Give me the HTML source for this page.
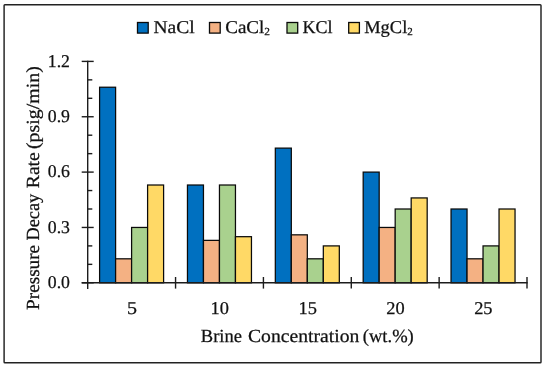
<!DOCTYPE html><html><head><meta charset="utf-8"><title>Chart</title><style>html,body{margin:0;padding:0;background:#fff}svg{display:block}text{text-rendering:geometricPrecision;font-family:"Liberation Serif","DejaVu Serif",serif;fill:#111}</style></head><body>
<svg width="550" height="370" viewBox="0 0 550 370">
<rect x="0" y="0" width="550" height="370" fill="#fff"/>
<rect x="4.1" y="4.8" width="536.9" height="358" fill="none" stroke="#222" stroke-width="1.45" rx="0.8"/>
<rect x="99.60" y="87.23" width="16.00" height="195.57" fill="#0070C0" stroke="#0a0a0a" stroke-width="1.25"/>
<rect x="115.60" y="258.81" width="16.00" height="23.99" fill="#F4B183" stroke="#0a0a0a" stroke-width="1.25"/>
<rect x="131.60" y="227.45" width="16.00" height="55.35" fill="#A9D18E" stroke="#0a0a0a" stroke-width="1.25"/>
<rect x="147.60" y="185.01" width="16.00" height="97.79" fill="#FFD966" stroke="#0a0a0a" stroke-width="1.25"/>
<rect x="187.46" y="185.01" width="16.00" height="97.79" fill="#0070C0" stroke="#0a0a0a" stroke-width="1.25"/>
<rect x="203.46" y="240.37" width="16.00" height="42.44" fill="#F4B183" stroke="#0a0a0a" stroke-width="1.25"/>
<rect x="219.46" y="185.01" width="16.00" height="97.79" fill="#A9D18E" stroke="#0a0a0a" stroke-width="1.25"/>
<rect x="235.46" y="236.68" width="16.00" height="46.12" fill="#FFD966" stroke="#0a0a0a" stroke-width="1.25"/>
<rect x="275.32" y="148.12" width="16.00" height="134.69" fill="#0070C0" stroke="#0a0a0a" stroke-width="1.25"/>
<rect x="291.32" y="234.83" width="16.00" height="47.97" fill="#F4B183" stroke="#0a0a0a" stroke-width="1.25"/>
<rect x="307.32" y="258.81" width="16.00" height="23.99" fill="#A9D18E" stroke="#0a0a0a" stroke-width="1.25"/>
<rect x="323.32" y="245.90" width="16.00" height="36.90" fill="#FFD966" stroke="#0a0a0a" stroke-width="1.25"/>
<rect x="363.18" y="172.10" width="16.00" height="110.70" fill="#0070C0" stroke="#0a0a0a" stroke-width="1.25"/>
<rect x="379.18" y="227.45" width="16.00" height="55.35" fill="#F4B183" stroke="#0a0a0a" stroke-width="1.25"/>
<rect x="395.18" y="209.00" width="16.00" height="73.80" fill="#A9D18E" stroke="#0a0a0a" stroke-width="1.25"/>
<rect x="411.18" y="197.93" width="16.00" height="84.87" fill="#FFD966" stroke="#0a0a0a" stroke-width="1.25"/>
<rect x="451.04" y="209.00" width="16.00" height="73.80" fill="#0070C0" stroke="#0a0a0a" stroke-width="1.25"/>
<rect x="467.04" y="258.81" width="16.00" height="23.99" fill="#F4B183" stroke="#0a0a0a" stroke-width="1.25"/>
<rect x="483.04" y="245.90" width="16.00" height="36.90" fill="#A9D18E" stroke="#0a0a0a" stroke-width="1.25"/>
<rect x="499.04" y="209.00" width="16.00" height="73.80" fill="#FFD966" stroke="#0a0a0a" stroke-width="1.25"/>
<g stroke="#1c1c1c" stroke-width="1.4" fill="none">
<line x1="87.7" y1="60.8" x2="87.7" y2="288.90000000000003"/>
<line x1="81.7" y1="282.8" x2="527.6" y2="282.8"/>
<line x1="81.7" y1="282.80" x2="93.7" y2="282.80"/>
<line x1="87.7" y1="264.35" x2="92.3" y2="264.35"/>
<line x1="87.7" y1="245.90" x2="92.3" y2="245.90"/>
<line x1="81.7" y1="227.45" x2="93.7" y2="227.45"/>
<line x1="87.7" y1="209.00" x2="92.3" y2="209.00"/>
<line x1="87.7" y1="190.55" x2="92.3" y2="190.55"/>
<line x1="81.7" y1="172.10" x2="93.7" y2="172.10"/>
<line x1="87.7" y1="153.65" x2="92.3" y2="153.65"/>
<line x1="87.7" y1="135.20" x2="92.3" y2="135.20"/>
<line x1="81.7" y1="116.75" x2="93.7" y2="116.75"/>
<line x1="87.7" y1="98.30" x2="92.3" y2="98.30"/>
<line x1="87.7" y1="79.85" x2="92.3" y2="79.85"/>
<line x1="81.7" y1="61.40" x2="93.7" y2="61.40"/>
<line x1="175.56" y1="277.0" x2="175.56" y2="288.6"/>
<line x1="263.42" y1="277.0" x2="263.42" y2="288.6"/>
<line x1="351.28" y1="277.0" x2="351.28" y2="288.6"/>
<line x1="439.14" y1="277.0" x2="439.14" y2="288.6"/>
<line x1="527.00" y1="277.0" x2="527.00" y2="288.6"/>
</g>
<text x="70.0" y="287.90" font-size="18" text-anchor="end" textLength="22.2" lengthAdjust="spacingAndGlyphs" stroke="#111" stroke-width="0.25">0.0</text>
<text x="70.0" y="232.55" font-size="18" text-anchor="end" textLength="22.2" lengthAdjust="spacingAndGlyphs" stroke="#111" stroke-width="0.25">0.3</text>
<text x="70.0" y="177.20" font-size="18" text-anchor="end" textLength="22.2" lengthAdjust="spacingAndGlyphs" stroke="#111" stroke-width="0.25">0.6</text>
<text x="70.0" y="121.85" font-size="18" text-anchor="end" textLength="22.2" lengthAdjust="spacingAndGlyphs" stroke="#111" stroke-width="0.25">0.9</text>
<text x="70.0" y="66.50" font-size="18" text-anchor="end" textLength="22.2" lengthAdjust="spacingAndGlyphs" stroke="#111" stroke-width="0.25">1.2</text>
<text x="131.93" y="314.1" font-size="18" text-anchor="middle" textLength="10" lengthAdjust="spacingAndGlyphs" stroke="#111" stroke-width="0.25">5</text>
<text x="219.79" y="314.1" font-size="18" text-anchor="middle" textLength="18.4" lengthAdjust="spacingAndGlyphs" stroke="#111" stroke-width="0.25">10</text>
<text x="307.65" y="314.1" font-size="18" text-anchor="middle" textLength="18.4" lengthAdjust="spacingAndGlyphs" stroke="#111" stroke-width="0.25">15</text>
<text x="395.51" y="314.1" font-size="18" text-anchor="middle" textLength="18.4" lengthAdjust="spacingAndGlyphs" stroke="#111" stroke-width="0.25">20</text>
<text x="483.37" y="314.1" font-size="18" text-anchor="middle" textLength="18.4" lengthAdjust="spacingAndGlyphs" stroke="#111" stroke-width="0.25">25</text>
<text x="200.8" y="341.6" font-size="18.5" textLength="41.2" lengthAdjust="spacingAndGlyphs" stroke="#111" stroke-width="0.25">Brine</text>
<text x="248.0" y="341.6" font-size="18.5" textLength="111.3" lengthAdjust="spacingAndGlyphs" stroke="#111" stroke-width="0.25">Concentration</text>
<text x="362.8" y="341.6" font-size="18.5" textLength="51" lengthAdjust="spacingAndGlyphs" stroke="#111" stroke-width="0.25">(wt.%)</text>
<g transform="translate(39.4,309.7) rotate(-90)" font-size="18.5">
<text x="-0.2" y="0" textLength="65" lengthAdjust="spacingAndGlyphs" stroke="#111" stroke-width="0.25">Pressure</text>
<text x="69.3" y="0" textLength="46.6" lengthAdjust="spacingAndGlyphs" stroke="#111" stroke-width="0.25">Decay</text>
<text x="121.5" y="0" textLength="36" lengthAdjust="spacingAndGlyphs" stroke="#111" stroke-width="0.25">Rate</text>
<text x="160.7" y="0" textLength="82.8" lengthAdjust="spacingAndGlyphs" stroke="#111" stroke-width="0.25">(psig/min)</text>
</g>
<rect x="137.5" y="22.5" width="10.7" height="10.6" fill="#0070C0" stroke="#0a0a0a" stroke-width="1.3"/>
<text x="153.5" y="32.9" font-size="18.1" textLength="41.2" lengthAdjust="spacingAndGlyphs" stroke="#111" stroke-width="0.25">NaCl</text>
<rect x="209.5" y="22.5" width="10.7" height="10.6" fill="#F4B183" stroke="#0a0a0a" stroke-width="1.3"/>
<text x="225.2" y="32.9" font-size="18.1" textLength="44.8" lengthAdjust="spacingAndGlyphs" stroke="#111" stroke-width="0.25">CaCl<tspan font-size="10.8" dy="1.7">2</tspan></text>
<rect x="287.0" y="22.5" width="10.7" height="10.6" fill="#A9D18E" stroke="#0a0a0a" stroke-width="1.3"/>
<text x="302.6" y="32.9" font-size="18.1" textLength="30" lengthAdjust="spacingAndGlyphs" stroke="#111" stroke-width="0.25">KCl</text>
<rect x="348.7" y="22.5" width="10.7" height="10.6" fill="#FFD966" stroke="#0a0a0a" stroke-width="1.3"/>
<text x="364.2" y="32.9" font-size="18.1" textLength="48.6" lengthAdjust="spacingAndGlyphs" stroke="#111" stroke-width="0.25">MgCl<tspan font-size="10.8" dy="1.7">2</tspan></text>
</svg></body></html>
